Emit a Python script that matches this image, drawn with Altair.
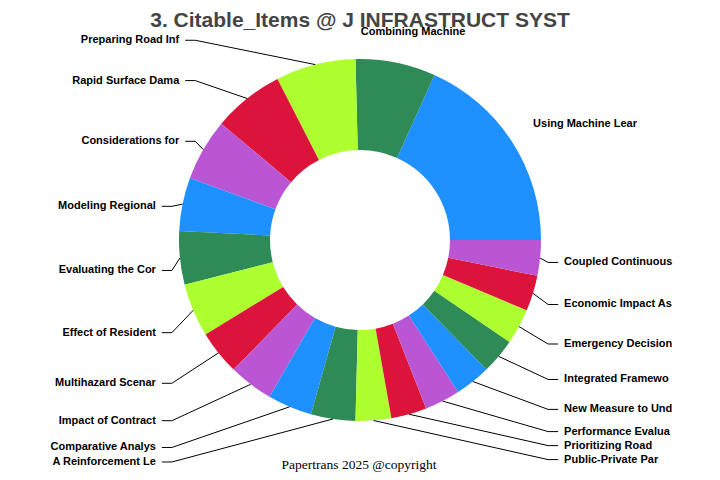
import math
import altair as alt
import pandas as pd

# ---------------- data ----------------
labels = [
    "Using Machine Lear", "Combining Machine ", "Preparing Road Inf", "Rapid Surface Dama",
    "Considerations for", "Modeling Regional ", "Evaluating the Cor", "Effect of Resident",
    "Multihazard Scenar", "Impact of Contract", "Comparative Analys", "A Reinforcement Le",
    "Public-Private Par", "Prioritizing Road ", "Performance Evalua", "New Measure to Und",
    "Integrated Framewo", "Emergency Decision", "Economic Impact As", "Coupled Continuous",
]
counts = [23, 9, 9, 8, 7, 6, 6, 6, 5, 5, 5, 5, 4, 4, 4, 4, 4, 4, 4, 4]
palette = ["#1E90FF", "#2E8B57", "#ADFF2F", "#DC143C", "#BA55D3"]
title_text = "3. Citable_Items @ J INFRASTRUCT SYST"
footer_text = "Papertrans 2025 @copyright"

# ---------------- style ----------------
W, H = 704, 464
R_OUT, R_IN = 181, 90
LABEL_K = 1.19      # vertical spread of labels (x outer radius)
FREE_KX = 1.48      # horizontal spread of labels without leader line
GAP = 14            # minimal vertical distance between labels
LEFT_DY, RIGHT_DY, FREE_DY = 9, 1, 3
FONT = "Liberation Sans"

n = len(counts)
total = float(sum(counts))
colors = [palette[i % len(palette)] for i in range(n)]

# angles (clockwise from 12 o'clock), stacked clockwise from 3 o'clock,
# starting with the last item, matching the theta scale below
mid = [0.0] * n
cum = 0.0
for i in reversed(range(n)):
    a0 = 90 + cum / total * 360
    cum += counts[i]
    a1 = 90 + cum / total * 360
    mid[i] = math.radians((a0 + a1) / 2)

sx = [math.sin(t) for t in mid]
cy = [math.cos(t) for t in mid]
px = [R_OUT * s for s in sx]
py = [-R_OUT * c for c in cy]          # downward positive

group = []
for i in range(n):
    if sx[i] > 0 and cy[i] > 0.3:
        group.append("free")
    elif sx[i] < 0 and cy[i] > 0.3:
        group.append("ul")
    elif sx[i] < 0:
        group.append("l")
    else:
        group.append("r")

nat = [(-LABEL_K * R_OUT * cy[i]) + (LEFT_DY if sx[i] < 0 else RIGHT_DY) for i in range(n)]


def repel(idx):
    idx = sorted(idx, key=lambda j: nat[j])
    clusters = []
    for j in idx:
        clusters.append([[j], nat[j]])
        while len(clusters) > 1:
            prev, cur = clusters[-2], clusters[-1]
            bottom = prev[1] + GAP * (len(prev[0]) - 1)
            if cur[1] - bottom < GAP:
                members = prev[0] + cur[0]
                m = sum(nat[k] for k in members) / len(members)
                clusters[-2:] = [[members, m - GAP * (len(members) - 1) / 2]]
            else:
                break
    out = {}
    for members, top in clusters:
        for k, j in enumerate(members):
            out[j] = top + k * GAP
    return out


ly = {}
ly.update(repel([i for i in range(n) if group[i] in ("ul", "l")]))
ly.update(repel([i for i in range(n) if group[i] == "r"]))

text_rows, seg_rows = [], []
for g in ("ul", "l", "r"):
    members = [i for i in range(n) if group[i] == g]
    if not members:
        continue
    if g == "r":
        corner = max(px[i] for i in members) + 8
        end = corner + 10
        tx = end + 6
        align = "left"
    else:
        corner = min(px[i] for i in members) - 8
        end = corner - 10
        tx = end - 6
        align = "right"
    for i in members:
        y = ly[i]
        seg_rows.append({"x": px[i], "y": -py[i], "x2": corner, "y2": -y})
        seg_rows.append({"x": corner, "y": -y, "x2": end, "y2": -y})
        text_rows.append({"label": labels[i], "x": tx, "y": -y, "align": align})

for i in range(n):
    if group[i] == "free":
        tx = FREE_KX * R_OUT * sx[i]
        ty = -LABEL_K * R_OUT * cy[i] + (FREE_DY if cy[i] > 0.9 else RIGHT_DY)
        text_rows.append({"label": labels[i], "x": tx, "y": -ty, "align": "center"})

df = pd.DataFrame({"label": labels, "value": counts, "ord": [n - 1 - i for i in range(n)]})
df_text = pd.DataFrame(text_rows)
df_seg = pd.DataFrame(seg_rows)

xs = alt.Scale(domain=[-W / 2, W / 2], nice=False, zero=False)
ys = alt.Scale(domain=[-H / 2, H / 2], nice=False, zero=False)

arcs = alt.Chart(df).mark_arc(innerRadius=R_IN, outerRadius=R_OUT).encode(
    theta=alt.Theta("value:Q", stack=True,
                    scale=alt.Scale(range=[math.pi / 2, math.pi / 2 + 2 * math.pi])),
    color=alt.Color("label:N", scale=alt.Scale(domain=labels, range=colors), legend=None),
    order=alt.Order("ord:Q"),
)

segs = alt.Chart(df_seg).mark_rule(color="black", strokeWidth=1).encode(
    x=alt.X("x:Q", scale=xs, axis=None),
    y=alt.Y("y:Q", scale=ys, axis=None),
    x2="x2:Q",
    y2="y2:Q",
)


def text_layer(al):
    return alt.Chart(df_text).transform_filter(alt.datum.align == al).mark_text(
        font=FONT, fontSize=11, fontWeight="bold", color="black", align=al, baseline="middle"
    ).encode(
        x=alt.X("x:Q", scale=xs, axis=None),
        y=alt.Y("y:Q", scale=ys, axis=None),
        text="label:N",
    )


title = alt.Chart(pd.DataFrame({"t": [title_text]})).mark_text(
    font=FONT, fontSize=21, fontWeight="bold", color="#444444", align="center", baseline="alphabetic"
).encode(text="t:N", x=alt.value(W / 2), y=alt.value(19))

footer = alt.Chart(pd.DataFrame({"t": [footer_text]})).mark_text(
    font="Liberation Serif", fontSize=13.5, color="black", align="center", baseline="alphabetic"
).encode(text="t:N", x=alt.value(W / 2 - 1), y=alt.value(461))

chart = alt.layer(
    arcs, segs, text_layer("left"), text_layer("right"), text_layer("center"), title, footer
).properties(
    width=W, height=H, autosize=alt.AutoSizeParams(type="none"), padding=0, background="white"
).configure_view(strokeWidth=0, stroke="transparent")

chart.save("out.html", embed_options={"renderer": "svg", "actions": False})
